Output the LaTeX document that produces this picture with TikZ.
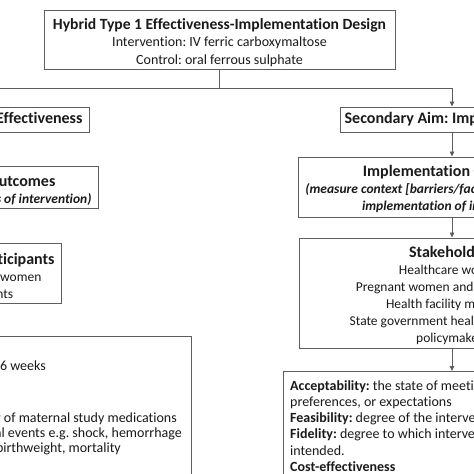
\documentclass[tikz,border=0pt]{standalone}
\usepackage{fontspec}
\setmainfont{Carlito}[Ligatures=NoCommon]
\usetikzlibrary{arrows.meta}
\definecolor{linegray}{HTML}{5E5E5E}
\definecolor{txt}{HTML}{1A1A1A}
\newcommand\bodyfs{\fontsize{13.5}{17}\selectfont}
\newcommand\headfs{\fontsize{16}{17}\selectfont}
\frenchspacing
\begin{document}
\begin{tikzpicture}[x=1pt,y=-1pt,
  box/.style={draw=linegray, line width=1pt, inner xsep=7pt, inner ysep=3pt, text=txt, font=\bodyfs},
  boldbox/.style={box, font=\headfs\bfseries},
  frame/.style={draw=linegray, line width=1pt, inner sep=0pt},
  line/.style={inner sep=0pt, text=txt, font=\fontsize{14}{16.5}\selectfont},
  conn/.style={draw=linegray, line width=0.8pt},
  arr/.style={conn, -{Triangle[length=5pt,width=4.5pt]}}]
\useasboundingbox (0,0) rectangle (474,474);
\clip (0,0) rectangle (474,474);
\fill[white] (0,0) rectangle (474,474);

\node[box, font=\fontsize{14}{17.2}\selectfont, align=center, minimum width=351pt, minimum height=59pt,
      text height=48pt, text depth=0pt] (top) at (219.5,40)
  {{\fontsize{15.6}{17.2}\selectfont\bfseries Hybrid Type 1 Effectiveness-Implementation Design}\\Intervention: IV ferric carboxymaltose\\Control: oral ferrous sulphate};

\node[boldbox, minimum height=25pt, anchor=east] (aim1) at (90,119.5) {Primary Aim: Effectiveness};
\node[boldbox, inner xsep=3pt, minimum height=25pt, minimum width=224pt] (aim2) at (452,119.5) {Secondary Aim: Implementation};

\coordinate (split) at (219.5,88);
\draw[conn] (top.south) -- (split);
\draw[arr] (split) -| (aim1.north);
\draw[arr] (split) -| (aim2.north);

% left column
\node[box, align=center, minimum height=42pt, anchor=east, text height=32pt, text depth=0pt] (effout) at (99,187)
  {{\headfs\bfseries Effectiveness Outcomes}\\{\bfseries\itshape (measuring effectiveness of intervention)}};
\node[box, align=center, minimum height=60pt, minimum width=132pt, anchor=east, text height=50pt, text depth=0pt] (part) at (62,273)
  {{\headfs\bfseries Study Participants}\\Pregnant women\\Infants};
\node[frame, minimum width=220pt, minimum height=160pt, anchor=north east] (meas) at (192,336) {};
\node[line, anchor=base east] (m1) at (46,370.5) {6 weeks};
\node[line, anchor=base east] (m2) at (177,422) {r of maternal study medications};
\node[line, anchor=base east] (m3) at (182,437) {al events e.g. shock, hemorrhage};
\node[line, anchor=base east] (m4) at (121,452.5) {birthweight, mortality};
\draw[arr] (aim1.south) -- (aim1.south |- effout.north);
\draw[arr] (aim1.south |- effout.south) -- (aim1.south |- part.north);
\draw[arr] (aim1.south |- part.south) -- (aim1.south |- meas.north);

% right column
\node[box, align=center, minimum width=306pt, minimum height=60pt, text height=46pt, text depth=0pt] (impl) at (452,187)
  {{\headfs\bfseries Implementation Outcomes}\\{\bfseries\itshape (measure context [barriers/facilitators] affecting the}\\{\bfseries\itshape implementation of intervention)}};
\node[box, align=center, minimum width=306pt, minimum height=110pt, text height=99pt, text depth=0pt] (stake) at (452,293)
  {{\headfs\bfseries Stakeholders}\\Healthcare workers\\Pregnant women and their families\\Health facility managers\\State government health officials and\\policymakers};
\node[frame, minimum width=338pt, minimum height=140pt, anchor=north west] (acc) at (283,371) {};
\node[line, anchor=base west] (a1) at (290,390) {\textbf{Acceptability:} the state of meeting needs,};
\node[line, anchor=base west] (a2) at (290,406.3) {preferences, or expectations};
\node[line, anchor=base west] (a3) at (290,422.6) {\textbf{Feasibility:} degree of the intervention uptake};
\node[line, anchor=base west] (a4) at (290,438.9) {\textbf{Fidelity:} degree to which intervention delivered};
\node[line, anchor=base west] (a5) at (290,455.2) {intended.};
\node[line, anchor=base west] (a6) at (290,471.5) {\textbf{Cost-effectiveness}};

\draw[arr] (aim2.south) -- (impl.north);
\draw[arr] (impl.south) -- (stake.north);
\draw[arr] (stake.south) -- (acc.north -| stake.south);
\end{tikzpicture}
\end{document}
